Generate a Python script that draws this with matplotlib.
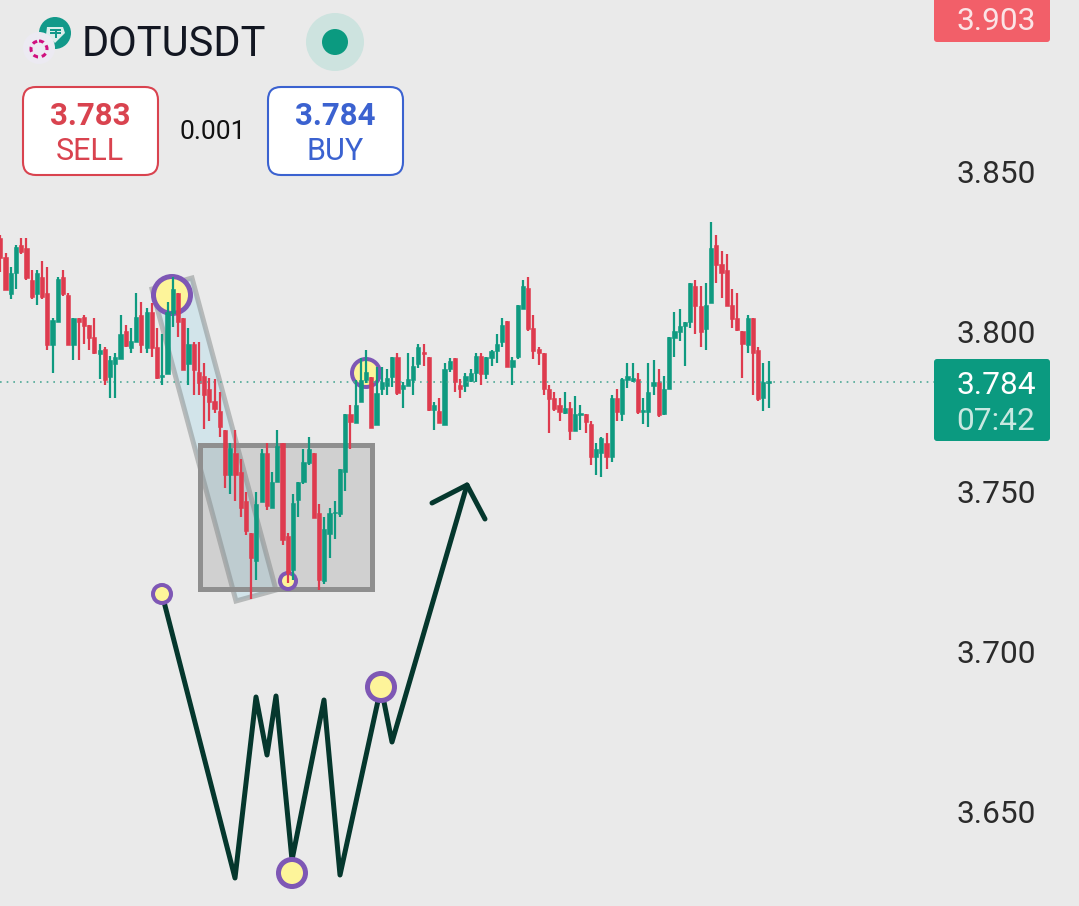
import matplotlib
matplotlib.use("Agg")
import matplotlib.pyplot as plt
from matplotlib.patches import Circle, FancyBboxPatch, Polygon, Rectangle
from matplotlib.transforms import blended_transform_factory

plt.rcParams['font.family'] = ['Roboto', 'DejaVu Sans']

opens = [3.8294, 3.8234, 3.8119, 3.8184, 3.8272, 3.8263, 3.8163, 3.8119, 3.8172, 3.8122,
         3.7959, 3.8031, 3.8172, 3.8116, 3.7959, 3.8044, 3.8047, 3.8022, 3.7984, 3.7931,
         3.7947, 3.7859, 3.7900, 3.7916, 3.8003, 3.7950, 3.7969, 3.8053, 3.7950, 3.8063,
         3.7953, 3.7859, 3.7869, 3.8059, 3.8122, 3.8044, 3.7900, 3.7963, 3.7875, 3.7863,
         3.7822, 3.7784, 3.7753, 3.7694, 3.7553, 3.7622, 3.7563, 3.7472, 3.7372, 3.7284,
         3.7469, 3.7622, 3.7450, 3.7531, 3.7653, 3.7363, 3.7256, 3.7475, 3.7531, 3.7591,
         3.7622, 3.7434, 3.7222, 3.7369, 3.7434, 3.7431, 3.7563, 3.7744, 3.7716, 3.7781,
         3.7850, 3.7859, 3.7709, 3.7822, 3.7831, 3.7859, 3.7922, 3.7822, 3.7831, 3.7850,
         3.7900, 3.7938, 3.7922, 3.7756, 3.7753, 3.7709, 3.7884, 3.7919, 3.7834, 3.7831,
         3.7847, 3.7872, 3.7925, 3.7869, 3.7919, 3.7941, 3.7969, 3.8034, 3.7891, 3.7922,
         3.8072, 3.8138, 3.8013, 3.7947, 3.7934, 3.7822, 3.7794, 3.7772, 3.7747, 3.7763,
         3.7691, 3.7741, 3.7744, 3.7713, 3.7609, 3.7622, 3.7653, 3.7609, 3.7794, 3.7744,
         3.7850, 3.7847, 3.7853, 3.7750, 3.7750, 3.7831, 3.7844, 3.7744, 3.7822, 3.7981,
         3.8000, 3.8019, 3.8031, 3.8144, 3.8081, 3.8009, 3.8091, 3.8272, 3.8213, 3.8194,
         3.8084, 3.8044, 3.8003, 3.7959, 3.8044, 3.7944, 3.7794, 3.7841]
closes = [3.8231, 3.8131, 3.8184, 3.8266, 3.8250, 3.8169, 3.8109, 3.8184, 3.8109, 3.7959,
          3.8038, 3.8166, 3.8119, 3.7959, 3.8044, 3.8031, 3.8019, 3.7981, 3.7934, 3.7944,
          3.7850, 3.7913, 3.7922, 3.7994, 3.7956, 3.7972, 3.8047, 3.7959, 3.8063, 3.7950,
          3.7856, 3.7866, 3.8063, 3.8134, 3.8031, 3.7881, 3.7963, 3.7881, 3.7841, 3.7803,
          3.7781, 3.7759, 3.7703, 3.7553, 3.7638, 3.7553, 3.7450, 3.7378, 3.7294, 3.7463,
          3.7622, 3.7456, 3.7531, 3.7644, 3.7350, 3.7247, 3.7466, 3.7531, 3.7594, 3.7634,
          3.7419, 3.7225, 3.7384, 3.7434, 3.7438, 3.7572, 3.7744, 3.7719, 3.7772, 3.7850,
          3.7875, 3.7700, 3.7809, 3.7844, 3.7856, 3.7922, 3.7809, 3.7834, 3.7853, 3.7894,
          3.7953, 3.7931, 3.7756, 3.7772, 3.7716, 3.7884, 3.7909, 3.7844, 3.7822, 3.7863,
          3.7872, 3.7925, 3.7869, 3.7922, 3.7941, 3.7963, 3.8022, 3.7891, 3.7913, 3.8084,
          3.8144, 3.8009, 3.7941, 3.7934, 3.7822, 3.7791, 3.7759, 3.7750, 3.7763, 3.7691,
          3.7744, 3.7747, 3.7719, 3.7609, 3.7634, 3.7669, 3.7609, 3.7794, 3.7750, 3.7853,
          3.7863, 3.7856, 3.7750, 3.7756, 3.7813, 3.7844, 3.7741, 3.7822, 3.7984, 3.8003,
          3.8019, 3.8031, 3.8153, 3.8081, 3.8000, 3.8084, 3.8263, 3.8209, 3.8184, 3.8081,
          3.8041, 3.8006, 3.7963, 3.8044, 3.7934, 3.7791, 3.7844, 3.7847]
highs = [3.8303, 3.8247, 3.8203, 3.8272, 3.8294, 3.8294, 3.8194, 3.8194, 3.8222, 3.8203,
         3.8044, 3.8172, 3.8194, 3.8122, 3.8044, 3.8044, 3.8053, 3.8022, 3.8044, 3.7963,
         3.7953, 3.7925, 3.7934, 3.8053, 3.8022, 3.8013, 3.8122, 3.8094, 3.8075, 3.8091,
         3.8013, 3.7994, 3.8094, 3.8172, 3.8122, 3.8044, 3.8013, 3.7969, 3.7969, 3.7903,
         3.7856, 3.7853, 3.7813, 3.7694, 3.7653, 3.7694, 3.7603, 3.7500, 3.7372, 3.7500,
         3.7634, 3.7653, 3.7563, 3.7694, 3.7653, 3.7372, 3.7494, 3.7531, 3.7634, 3.7672,
         3.7622, 3.7463, 3.7422, 3.7450, 3.7472, 3.7572, 3.7744, 3.7772, 3.7850, 3.7919,
         3.7944, 3.7859, 3.7891, 3.7891, 3.7884, 3.7922, 3.7934, 3.7844, 3.7934, 3.7922,
         3.7963, 3.7963, 3.7922, 3.7781, 3.7794, 3.7903, 3.7919, 3.7919, 3.7853, 3.7872,
         3.7884, 3.7934, 3.7934, 3.7922, 3.7944, 3.7994, 3.8044, 3.8034, 3.7922, 3.8084,
         3.8163, 3.8172, 3.8053, 3.7953, 3.7934, 3.7834, 3.7813, 3.7794, 3.7813, 3.7781,
         3.7800, 3.7772, 3.7744, 3.7722, 3.7653, 3.7672, 3.7684, 3.7803, 3.7822, 3.7856,
         3.7903, 3.7903, 3.7872, 3.7794, 3.7903, 3.7913, 3.7884, 3.7863, 3.7984, 3.8063,
         3.8072, 3.8031, 3.8153, 3.8163, 3.8144, 3.8153, 3.8344, 3.8303, 3.8253, 3.8244,
         3.8134, 3.8122, 3.8003, 3.8053, 3.8044, 3.7953, 3.7903, 3.7909]
lows = [3.8188, 3.8131, 3.8103, 3.8134, 3.8244, 3.8163, 3.8103, 3.8084, 3.8103, 3.7944,
        3.7872, 3.8031, 3.8113, 3.7959, 3.7913, 3.7913, 3.7963, 3.7944, 3.7931, 3.7853,
        3.7834, 3.7794, 3.7794, 3.7916, 3.7953, 3.7934, 3.7969, 3.7934, 3.7934, 3.7922,
        3.7853, 3.7834, 3.7869, 3.8016, 3.7984, 3.7881, 3.7834, 3.7803, 3.7803, 3.7697,
        3.7722, 3.7747, 3.7672, 3.7513, 3.7494, 3.7472, 3.7422, 3.7366, 3.7166, 3.7225,
        3.7469, 3.7444, 3.7450, 3.7531, 3.7334, 3.7216, 3.7225, 3.7422, 3.7525, 3.7584,
        3.7419, 3.7194, 3.7213, 3.7294, 3.7353, 3.7422, 3.7503, 3.7634, 3.7716, 3.7781,
        3.7841, 3.7700, 3.7709, 3.7803, 3.7803, 3.7828, 3.7803, 3.7763, 3.7831, 3.7803,
        3.7888, 3.7894, 3.7753, 3.7694, 3.7716, 3.7709, 3.7875, 3.7813, 3.7794, 3.7813,
        3.7844, 3.7844, 3.7834, 3.7853, 3.7894, 3.7903, 3.7953, 3.7891, 3.7834, 3.7916,
        3.8072, 3.8003, 3.7916, 3.7897, 3.7803, 3.7684, 3.7753, 3.7722, 3.7744, 3.7663,
        3.7691, 3.7694, 3.7684, 3.7584, 3.7553, 3.7547, 3.7572, 3.7594, 3.7722, 3.7722,
        3.7825, 3.7844, 3.7744, 3.7713, 3.7703, 3.7803, 3.7734, 3.7741, 3.7822, 3.7922,
        3.7972, 3.7894, 3.8013, 3.7994, 3.7953, 3.7944, 3.8091, 3.8153, 3.8106, 3.8081,
        3.8013, 3.8003, 3.7856, 3.7934, 3.7803, 3.7784, 3.7753, 3.7763]

last_price = 3.7844
tick_prices = [3.85, 3.80, 3.75, 3.70, 3.65]
symbol = "DOTUSDT"
sell_price = "3.783"
buy_price = "3.784"
spread = "0.001"
high_label = "3.903"
last_label = "3.784"
countdown = "07:42"

# hand drawn pattern on top of the chart, in screen pixels
pattern_x = [162, 235, 256, 267, 276, 292, 324, 340, 381, 392, 467]
pattern_y = [594, 878, 697, 755, 696, 860, 700, 875, 687, 742, 485]
arrow_x = [432, 467, 485]
arrow_y = [503, 485, 519]
# x, y, outer radius, ring width
upper_dots = [(172, 295, 21, 5), (366, 373, 16, 4), (288, 581, 10, 4)]
lower_dots = [(162, 594, 11, 4), (381, 687, 16, 5), (292, 873, 16, 5)]

BG = '#EAEAEA'
GREEN = '#0F9A80'
RED = '#DE3B4E'
PURPLE = '#7E57B5'
YELLOW = '#FDF49A'
DARK = '#05372D'
SELL = '#D9434F'
BUY = '#3B62D0'

fig = plt.figure(figsize=(10.79, 9.06), dpi=100, facecolor=BG)


def pixel_axes(z):
    a = fig.add_axes([0, 0, 1, 1], zorder=z)
    a.set_xlim(0, 1079)
    a.set_ylim(906, 0)
    a.axis('off')
    a.patch.set_alpha(0)
    return a


under = pixel_axes(0)
ax = fig.add_axes([0, 0, 1, 1], zorder=1)
top = pixel_axes(2)

# shapes and marker dots sit behind the candles
under.add_patch(Polygon([(152, 289), (192, 278), (276, 590), (236, 601)], closed=True,
                        fc=(0.68, 0.86, 0.92, 0.38), ec=(0.55, 0.57, 0.57, 0.55), lw=3.6))
under.add_patch(Rectangle((199.5, 445), 172, 144, fc=(0.5, 0.5, 0.5, 0.24), ec='#8F8F8F', lw=3.6))
for x, y, r, w in upper_dots:
    under.add_patch(Circle((x, y), r - w / 2, fc=YELLOW, ec=PURPLE, lw=w * 0.72, zorder=5))

# candles
ax.set_xlim(-0.057, 206.4)
ax.set_ylim(3.620625, 3.90375)
ax.axis('off')
ax.patch.set_alpha(0)
ax.axhline(last_price, 0, 934 / 1079, color='#4FA996', lw=1.2, ls=(0, (1, 3)))
for i in range(len(opens)):
    c = GREEN if closes[i] >= opens[i] else RED
    ax.vlines(i, lows[i], highs[i], color=c, lw=1.6)
    ax.bar(i, abs(closes[i] - opens[i]), bottom=min(opens[i], closes[i]), width=0.8,
           color=c, lw=0.4, edgecolor=c)

# price scale
scale_pos = blended_transform_factory(top.transData, ax.transData)
for p in tick_prices:
    ax.annotate("%.3f" % p, (996, p), xycoords=scale_pos, xytext=(0, -1.5), textcoords='offset points',
                ha='center', va='center', fontsize=22.8, color='#2B2B2B')

# drawn pattern
top.plot(pattern_x, pattern_y, color=DARK, lw=3.6, solid_joinstyle='round', solid_capstyle='round')
top.plot(arrow_x, arrow_y, color=DARK, lw=3.6, solid_joinstyle='round', solid_capstyle='round')
for x, y, r, w in lower_dots:
    top.add_patch(Circle((x, y), r - w / 2, fc=YELLOW, ec=PURPLE, lw=w * 0.72, zorder=5))

# header
top.add_patch(Circle((55, 33), 16, fc='#12998A', ec='none'))
top.add_patch(Polygon([(47, 27), (63, 27), (65, 33), (55, 43), (46, 35)], closed=True, fc='#F2F8F6', ec='none', alpha=0.9))
top.add_patch(Rectangle((50, 29), 11, 1.5, fc='#12998A', ec='none'))
top.add_patch(Rectangle((50, 32), 11, 1.5, fc='#12998A', ec='none'))
top.add_patch(Rectangle((54.5, 29), 2, 9, fc='#12998A', ec='none'))
top.add_patch(Circle((39, 48), 16, fc='#ECEAF2', ec='none'))
top.add_patch(Circle((39, 49), 8, fc='none', ec='#D0107F', lw=2.2, ls=(0, (1.6, 1.25))))
top.text(82, 44, symbol, fontsize=30, color='#131722', ha='left', va='center')
top.add_patch(Circle((335, 42), 29, fc='#CDE3DF', ec='none'))
top.add_patch(Circle((335, 42), 13, fc='#0B9A80', ec='none'))

top.add_patch(FancyBboxPatch((36, 100), 109, 62, boxstyle='round,pad=13,rounding_size=13',
                             fc='white', ec=SELL, lw=1.5))
top.text(90.5, 116, sell_price, fontsize=22.5, fontweight='bold', color=SELL, ha='center', va='center')
top.text(90, 152, "SELL", fontsize=22, color=SELL, ha='center', va='center')
top.add_patch(FancyBboxPatch((281, 100), 109, 62, boxstyle='round,pad=13,rounding_size=13',
                             fc='white', ec=BUY, lw=1.5))
top.text(335, 116, buy_price, fontsize=22.5, fontweight='bold', color=BUY, ha='center', va='center')
top.text(335, 152, "BUY", fontsize=22, color=BUY, ha='center', va='center')
top.text(212.5, 132, spread, fontsize=19, color='#111111', ha='center', va='center')

# price labels on the right
top.add_patch(FancyBboxPatch((937, -10), 110, 49, boxstyle='round,pad=3,rounding_size=3', fc='#F25F69', ec='none'))
top.text(996, 22, high_label, fontsize=22.8, color='#FBE4E6', ha='center', va='center')
top.add_patch(FancyBboxPatch((937, 362), 110, 76, boxstyle='round,pad=3,rounding_size=3', fc='#0B9A80', ec='none'))
top.text(996, 386, last_label, fontsize=22.8, color='white', ha='center', va='center')
top.text(996, 422, countdown, fontsize=22.8, color='#C8E8E1', ha='center', va='center')

fig.savefig('out.png', dpi=100, facecolor=BG)
